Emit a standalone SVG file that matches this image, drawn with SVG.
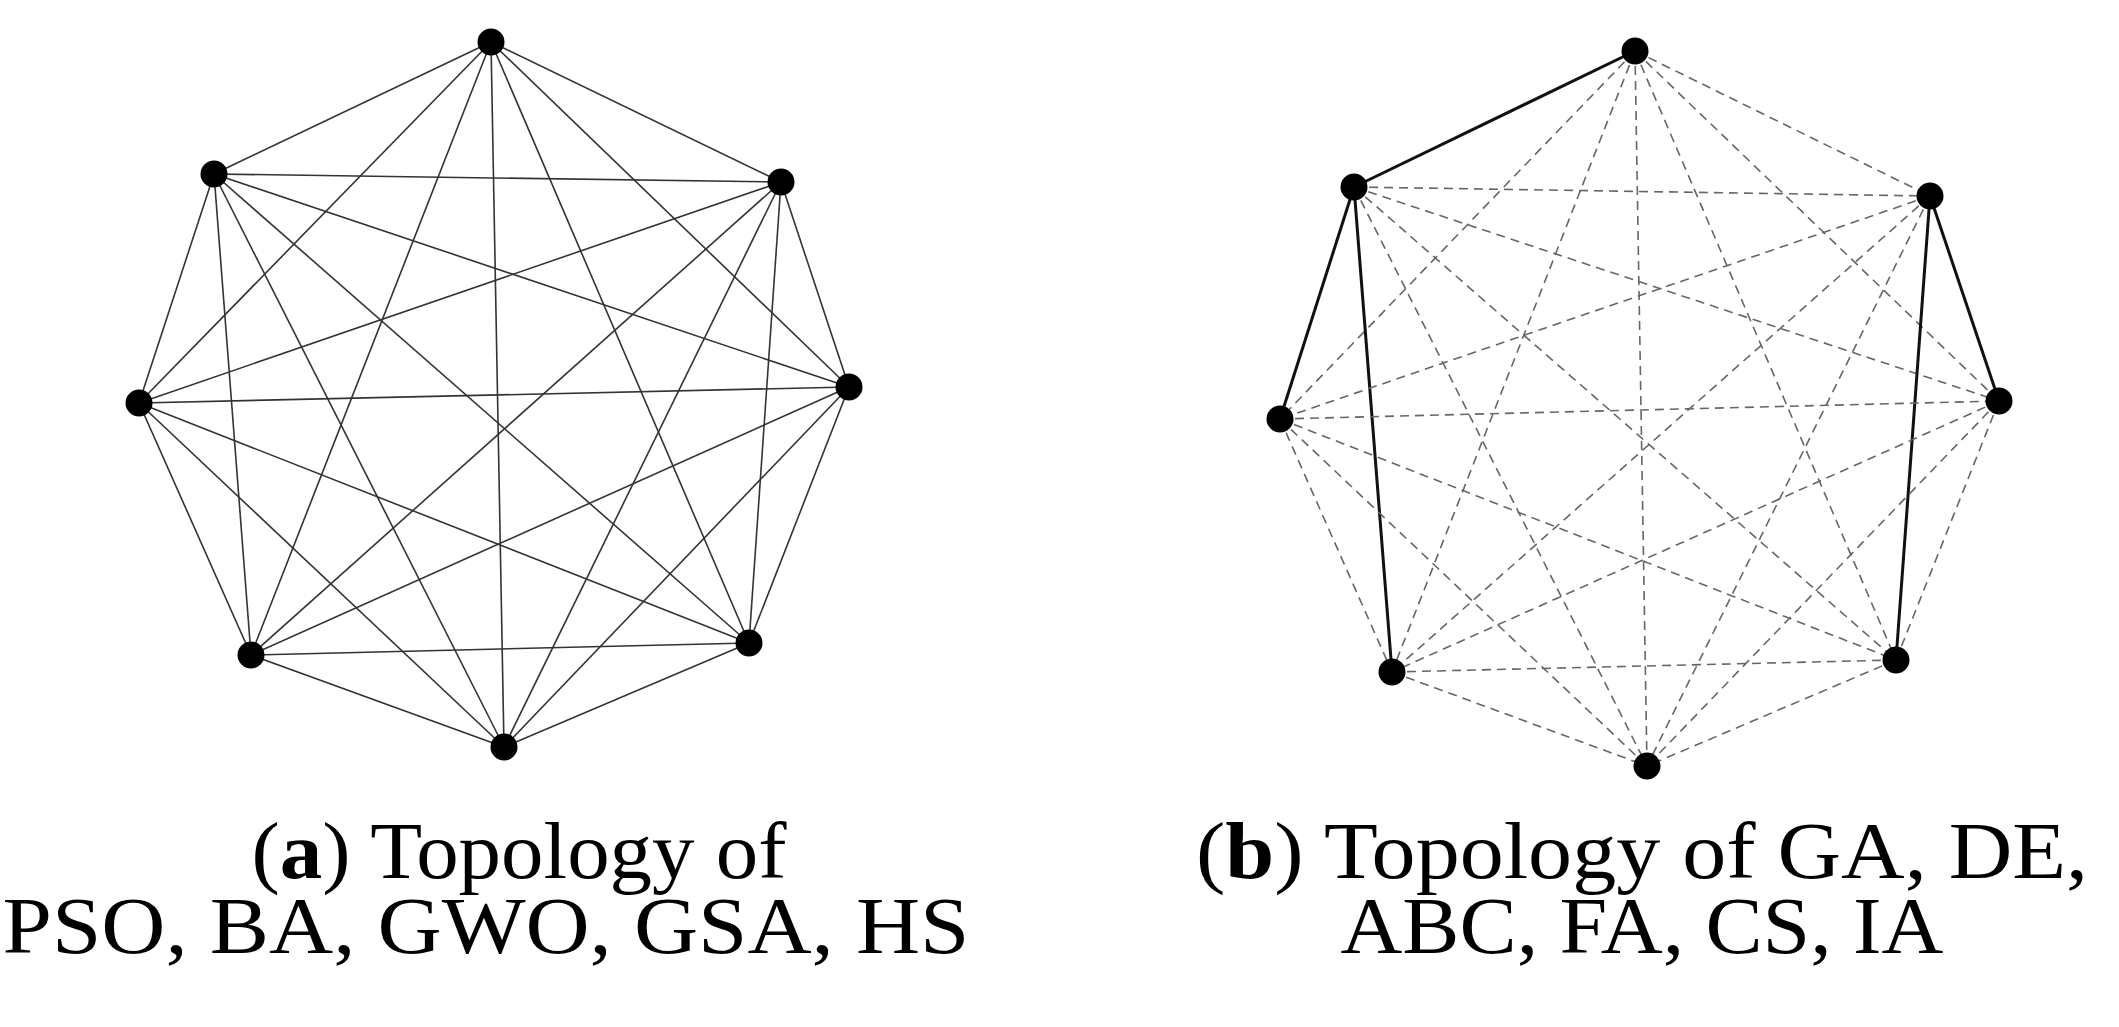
<svg xmlns="http://www.w3.org/2000/svg" width="2119" height="1027" viewBox="0 0 2119 1027">
<style>
.e{stroke:#333;stroke-width:1.6}
.s{stroke:#111;stroke-width:3}
.d{stroke:#666;stroke-width:1.6;stroke-dasharray:9 6}
.n{fill:#000}
.t{font-family:"Liberation Serif",serif;font-size:80px;fill:#000;text-anchor:middle}
</style>
<rect width="2119" height="1027" fill="#fff"/>
<g id="connectors-a">
<line class="e" x1="491" y1="42" x2="214" y2="174"/><line class="e" x1="491" y1="42" x2="781" y2="182"/><line class="e" x1="491" y1="42" x2="139" y2="403"/><line class="e" x1="491" y1="42" x2="849" y2="387"/><line class="e" x1="491" y1="42" x2="251" y2="655"/><line class="e" x1="491" y1="42" x2="749" y2="643"/><line class="e" x1="491" y1="42" x2="504" y2="747"/>
<line class="e" x1="214" y1="174" x2="781" y2="182"/><line class="e" x1="214" y1="174" x2="139" y2="403"/><line class="e" x1="214" y1="174" x2="849" y2="387"/><line class="e" x1="214" y1="174" x2="251" y2="655"/><line class="e" x1="214" y1="174" x2="749" y2="643"/><line class="e" x1="214" y1="174" x2="504" y2="747"/>
<line class="e" x1="781" y1="182" x2="139" y2="403"/><line class="e" x1="781" y1="182" x2="849" y2="387"/><line class="e" x1="781" y1="182" x2="251" y2="655"/><line class="e" x1="781" y1="182" x2="749" y2="643"/><line class="e" x1="781" y1="182" x2="504" y2="747"/>
<line class="e" x1="139" y1="403" x2="849" y2="387"/><line class="e" x1="139" y1="403" x2="251" y2="655"/><line class="e" x1="139" y1="403" x2="749" y2="643"/><line class="e" x1="139" y1="403" x2="504" y2="747"/>
<line class="e" x1="849" y1="387" x2="251" y2="655"/><line class="e" x1="849" y1="387" x2="749" y2="643"/><line class="e" x1="849" y1="387" x2="504" y2="747"/>
<line class="e" x1="251" y1="655" x2="749" y2="643"/><line class="e" x1="251" y1="655" x2="504" y2="747"/><line class="e" x1="749" y1="643" x2="504" y2="747"/>
</g>
<g id="connectors-b">
<line class="s" x1="1635" y1="51" x2="1354" y2="187"/><line class="d" x1="1635" y1="51" x2="1930" y2="196"/><line class="d" x1="1635" y1="51" x2="1280" y2="419"/><line class="d" x1="1635" y1="51" x2="1999" y2="401"/><line class="d" x1="1635" y1="51" x2="1392" y2="672"/><line class="d" x1="1635" y1="51" x2="1896" y2="660"/><line class="d" x1="1635" y1="51" x2="1647" y2="766"/>
<line class="d" x1="1354" y1="187" x2="1930" y2="196"/><line class="s" x1="1354" y1="187" x2="1280" y2="419"/><line class="d" x1="1354" y1="187" x2="1999" y2="401"/><line class="s" x1="1354" y1="187" x2="1392" y2="672"/><line class="d" x1="1354" y1="187" x2="1896" y2="660"/><line class="d" x1="1354" y1="187" x2="1647" y2="766"/>
<line class="d" x1="1930" y1="196" x2="1280" y2="419"/><line class="s" x1="1930" y1="196" x2="1999" y2="401"/><line class="d" x1="1930" y1="196" x2="1392" y2="672"/><line class="s" x1="1930" y1="196" x2="1896" y2="660"/><line class="d" x1="1930" y1="196" x2="1647" y2="766"/>
<line class="d" x1="1280" y1="419" x2="1999" y2="401"/><line class="d" x1="1280" y1="419" x2="1392" y2="672"/><line class="d" x1="1280" y1="419" x2="1896" y2="660"/><line class="d" x1="1280" y1="419" x2="1647" y2="766"/>
<line class="d" x1="1999" y1="401" x2="1392" y2="672"/><line class="d" x1="1999" y1="401" x2="1896" y2="660"/><line class="d" x1="1999" y1="401" x2="1647" y2="766"/>
<line class="d" x1="1392" y1="672" x2="1896" y2="660"/><line class="d" x1="1392" y1="672" x2="1647" y2="766"/><line class="d" x1="1896" y1="660" x2="1647" y2="766"/>
</g>
<g id="a-nodes">
<circle id="a1" class="n" cx="491" cy="42" r="13.5"/><circle id="a2" class="n" cx="214" cy="174" r="13.5"/><circle id="a3" class="n" cx="781" cy="182" r="13.5"/><circle id="a4" class="n" cx="139" cy="403" r="13.5"/><circle id="a5" class="n" cx="849" cy="387" r="13.5"/><circle id="a6" class="n" cx="251" cy="655" r="13.5"/><circle id="a7" class="n" cx="749" cy="643" r="13.5"/><circle id="a8" class="n" cx="504" cy="747" r="13.5"/>
</g>
<g id="b-nodes">
<circle id="b1" class="n" cx="1635" cy="51" r="13.5"/><circle id="b2" class="n" cx="1354" cy="187" r="13.5"/><circle id="b3" class="n" cx="1930" cy="196" r="13.5"/><circle id="b4" class="n" cx="1280" cy="419" r="13.5"/><circle id="b5" class="n" cx="1999" cy="401" r="13.5"/><circle id="b6" class="n" cx="1392" cy="672" r="13.5"/><circle id="b7" class="n" cx="1896" cy="660" r="13.5"/><circle id="b8" class="n" cx="1647" cy="766" r="13.5"/>
</g>
<g id="captions">
<text class="t" x="519" y="878" textLength="535" lengthAdjust="spacingAndGlyphs">(<tspan font-weight="bold">a</tspan>) Topology of</text>
<text class="t" x="486" y="953" textLength="967" lengthAdjust="spacingAndGlyphs">PSO, BA, GWO, GSA, HS</text>
<text class="t" x="1642" y="878" textLength="892" lengthAdjust="spacingAndGlyphs">(<tspan font-weight="bold">b</tspan>) Topology of GA, DE,</text>
<text class="t" x="1642" y="953" textLength="603" lengthAdjust="spacingAndGlyphs">ABC, FA, CS, IA</text>
</g>
</svg>
